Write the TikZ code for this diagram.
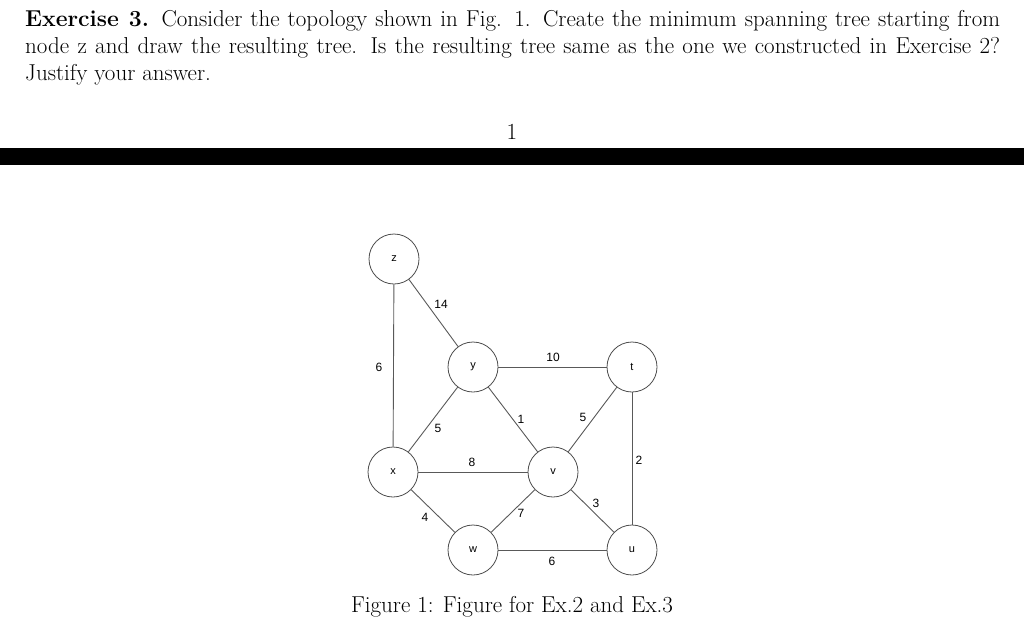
\documentclass[tikz,border=0pt]{standalone}
\usepackage{fontspec}
\setsansfont{Liberation Sans}
\begin{document}
\begin{tikzpicture}[x=1pt,y=-1pt,
  vtx/.style={circle,draw=black!70,line width=0.8pt,minimum size=50pt,inner sep=0pt,font=\sffamily\fontsize{11}{12}\selectfont},
  edge/.style={draw=black!65,line width=0.9pt},
  lbl/.style={font=\sffamily\fontsize{12}{13}\selectfont,inner sep=1pt}]
\useasboundingbox (0,0) rectangle (1024,624);
\node[anchor=north west,text width=975pt,align=justify,inner sep=0pt,font=\fontsize{23}{27}\selectfont] (txt) at (25,10)
{\textbf{Exercise 3.} Consider the topology shown in Fig. 1. Create the minimum spanning tree starting from\linebreak node z and draw the resulting tree. Is the resulting tree same as the one we constructed in Exercise 2?\linebreak Justify your answer.};
\node[font=\fontsize{23}{24}\selectfont] (pg) at (512,132) {1};
\fill[black] (0,148) rectangle (1024,165);
\node (z) [vtx] at (394,259) {z};
\node (y) [vtx] at (473,367) {y};
\node (t) [vtx] at (632,367) {t};
\node (x) [vtx] at (393,472) {x};
\node (v) [vtx] at (553,472) {v};
\node (w) [vtx] at (473,550) {w};
\node (u) [vtx] at (632,550) {u};
\draw[edge] (z) -- (x);
\draw[edge] (z) -- (y);
\draw[edge] (y) -- (t);
\draw[edge] (y) -- (x);
\draw[edge] (y) -- (v);
\draw[edge] (t) -- (v);
\draw[edge] (t) -- (u);
\draw[edge] (x) -- (v);
\draw[edge] (x) -- (w);
\draw[edge] (v) -- (w);
\draw[edge] (v) -- (u);
\draw[edge] (w) -- (u);
\node[lbl] (l14) at (441,304) {14};
\node[lbl] (l6a) at (379,367) {6};
\node[lbl] (l10) at (553,357) {10};
\node[lbl] (l5a) at (438,428) {5};
\node[lbl] (l1) at (521,419) {1};
\node[lbl] (l5b) at (583,417) {5};
\node[lbl] (l8) at (472,462) {8};
\node[lbl] (l2) at (639,460) {2};
\node[lbl] (l4) at (425,517) {4};
\node[lbl] (l7) at (521,513) {7};
\node[lbl] (l3) at (596,503) {3};
\node[lbl] (l6b) at (552,561) {6};
\node[font=\fontsize{23}{24}\selectfont] (cap) at (512,607) {Figure 1: Figure for Ex.2 and Ex.3};
\end{tikzpicture}
\end{document}
